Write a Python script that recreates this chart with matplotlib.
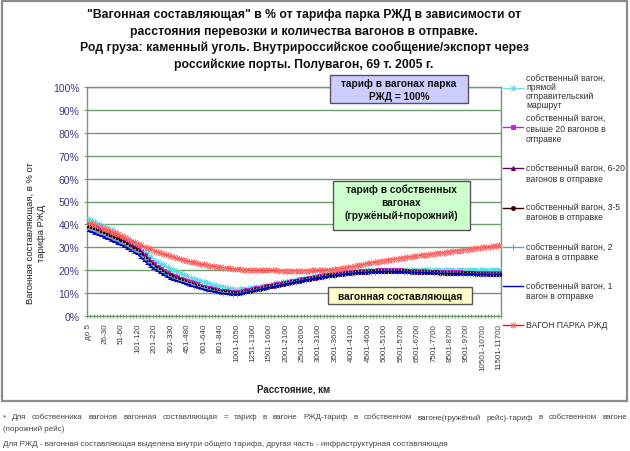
import matplotlib
matplotlib.use("Agg")
import matplotlib.pyplot as plt
from matplotlib.patches import Rectangle
from matplotlib.lines import Line2D
from matplotlib.path import Path
import numpy as np

# ---------------- DATA ----------------
tick_labels = ["до 5", "26-30", "51-60", "101-120", "201-220", "301-330", "451-480",
               "601-640", "801-840", "1001-1050", "1251-1300", "1501-1600", "2001-2100",
               "2501-2600", "3001-3100", "3501-3600", "4001-4100", "4501-4600",
               "5001-5100", "5501-5700", "6501-6700", "7501-7700", "8501-8700",
               "9501-9700", "10501-10700", "11501-11700"]
label_step = 5  # every 5th distance belt is labelled

own_direct = [
    42.5,
    41.7, 41.0, 40.3, 39.5, 38.8,
    38.1, 37.4, 36.6, 35.8, 35.0,
    34.1, 33.2, 32.3, 31.4, 30.5,
    29.3, 28.1, 26.9, 25.7, 24.5,
    23.7, 22.9, 22.1, 21.3, 20.5,
    19.9, 19.2, 18.6, 17.9, 17.3,
    16.8, 16.3, 15.8, 15.3, 14.8,
    14.4, 14.0, 13.6, 13.2, 12.8,
    12.5, 12.2, 11.9, 11.7, 11.5,
    11.6, 11.7, 11.9, 12.1, 12.3,
    12.6, 12.8, 13.1, 13.3, 13.6,
    13.9, 14.2, 14.5, 14.7, 15.0,
    15.3, 15.5, 15.8, 16.0, 16.3,
    16.5, 16.8, 17.0, 17.3, 17.5,
    17.7, 17.9, 18.1, 18.3, 18.5,
    18.7, 18.8, 19.0, 19.1, 19.3,
    19.4, 19.5, 19.7, 19.8, 19.9,
    20.0, 20.1, 20.2, 20.2, 20.3,
    20.3, 20.3, 20.3, 20.3, 20.3,
    20.3, 20.3, 20.2, 20.2, 20.2,
    20.2, 20.2, 20.1, 20.1, 20.1,
    20.1, 20.1, 20.0, 20.0, 20.0,
    20.0, 20.0, 20.0, 20.0, 20.0,
    20.0, 19.9, 19.9, 19.9, 19.9,
    19.9, 19.9, 19.9, 19.9, 19.9,
]

own_20plus = [
    39.8,
    39.2, 38.6, 38.0, 37.4, 36.8,
    36.1, 35.5, 34.8, 34.2, 33.5,
    32.7, 31.9, 31.1, 30.3, 29.5,
    28.0, 26.5, 25.0, 23.7, 22.5,
    21.6, 20.7, 19.8, 18.9, 18.0,
    17.4, 16.9, 16.3, 15.8, 15.2,
    14.7, 14.2, 13.8, 13.3, 12.8,
    12.4, 12.1, 11.7, 11.4, 11.0,
    10.9, 10.7, 10.6, 10.4, 10.3,
    10.6, 10.9, 11.2, 11.5, 11.8,
    12.1, 12.4, 12.6, 12.9, 13.2,
    13.5, 13.8, 14.0, 14.3, 14.6,
    14.9, 15.2, 15.4, 15.7, 16.0,
    16.3, 16.5, 16.8, 17.0, 17.3,
    17.5, 17.7, 18.0, 18.2, 18.4,
    18.6, 18.7, 18.9, 19.0, 19.2,
    19.3, 19.4, 19.5, 19.6, 19.7,
    19.8, 19.8, 19.9, 19.9, 20.0,
    20.0, 20.0, 19.9, 19.9, 19.9,
    19.8, 19.8, 19.7, 19.7, 19.6,
    19.5, 19.5, 19.4, 19.4, 19.3,
    19.3, 19.2, 19.2, 19.1, 19.1,
    19.0, 19.0, 19.0, 18.9, 18.9,
    18.9, 18.9, 18.8, 18.8, 18.8,
    18.8, 18.7, 18.7, 18.7, 18.7,
]

own_6_20 = [
    39.3,
    38.7, 38.1, 37.5, 36.9, 36.3,
    35.6, 35.0, 34.3, 33.7, 33.0,
    32.2, 31.4, 30.6, 29.8, 29.0,
    27.5, 26.0, 24.6, 23.3, 22.1,
    21.2, 20.3, 19.4, 18.5, 17.7,
    17.1, 16.6, 16.0, 15.5, 14.9,
    14.4, 13.9, 13.5, 13.0, 12.6,
    12.2, 11.9, 11.5, 11.2, 10.8,
    10.7, 10.5, 10.4, 10.2, 10.1,
    10.4, 10.7, 11.0, 11.3, 11.6,
    11.9, 12.2, 12.4, 12.7, 13.0,
    13.3, 13.6, 13.8, 14.1, 14.4,
    14.7, 15.0, 15.2, 15.5, 15.8,
    16.1, 16.3, 16.6, 16.8, 17.1,
    17.3, 17.5, 17.8, 18.0, 18.2,
    18.4, 18.5, 18.7, 18.8, 19.0,
    19.1, 19.2, 19.3, 19.4, 19.5,
    19.6, 19.6, 19.7, 19.7, 19.8,
    19.8, 19.8, 19.7, 19.7, 19.7,
    19.6, 19.6, 19.5, 19.5, 19.4,
    19.3, 19.3, 19.2, 19.2, 19.1,
    19.1, 19.0, 19.0, 18.9, 18.9,
    18.8, 18.8, 18.8, 18.7, 18.7,
    18.7, 18.7, 18.6, 18.6, 18.6,
    18.6, 18.5, 18.5, 18.5, 18.5,
]

own_3_5 = [
    38.8,
    38.2, 37.6, 37.0, 36.4, 35.8,
    35.1, 34.5, 33.8, 33.2, 32.5,
    31.7, 30.9, 30.1, 29.3, 28.5,
    27.0, 25.5, 24.1, 22.8, 21.6,
    20.7, 19.8, 18.9, 18.1, 17.3,
    16.7, 16.2, 15.6, 15.1, 14.6,
    14.1, 13.6, 13.2, 12.7, 12.3,
    11.9, 11.6, 11.2, 10.9, 10.6,
    10.4, 10.3, 10.1, 10.0, 9.9,
    10.2, 10.5, 10.8, 11.1, 11.4,
    11.7, 12.0, 12.3, 12.6, 12.9,
    13.2, 13.5, 13.7, 14.0, 14.3,
    14.6, 14.9, 15.1, 15.4, 15.7,
    16.0, 16.2, 16.5, 16.7, 17.0,
    17.2, 17.4, 17.7, 17.9, 18.1,
    18.3, 18.4, 18.6, 18.7, 18.9,
    19.0, 19.1, 19.2, 19.3, 19.4,
    19.5, 19.5, 19.6, 19.6, 19.7,
    19.7, 19.7, 19.6, 19.6, 19.6,
    19.5, 19.5, 19.4, 19.4, 19.3,
    19.2, 19.2, 19.1, 19.1, 19.0,
    19.0, 18.9, 18.9, 18.8, 18.8,
    18.7, 18.7, 18.7, 18.6, 18.6,
    18.6, 18.6, 18.5, 18.5, 18.5,
    18.5, 18.4, 18.4, 18.4, 18.4,
]

own_2 = [
    38.1,
    37.5, 36.9, 36.3, 35.7, 35.1,
    34.4, 33.8, 33.1, 32.5, 31.8,
    31.0, 30.2, 29.4, 28.6, 27.8,
    26.4, 24.9, 23.5, 22.3, 21.1,
    20.2, 19.3, 18.4, 17.6, 16.8,
    16.3, 15.8, 15.3, 14.8, 14.3,
    13.8, 13.3, 12.9, 12.5, 12.1,
    11.7, 11.4, 11.0, 10.7, 10.4,
    10.2, 10.1, 9.9, 9.8, 9.7,
    10.0, 10.3, 10.6, 10.9, 11.2,
    11.5, 11.8, 12.1, 12.4, 12.7,
    13.0, 13.3, 13.6, 13.9, 14.2,
    14.5, 14.8, 15.0, 15.3, 15.6,
    15.9, 16.1, 16.4, 16.6, 16.9,
    17.1, 17.3, 17.6, 17.8, 18.0,
    18.2, 18.3, 18.5, 18.6, 18.8,
    18.9, 19.0, 19.1, 19.2, 19.3,
    19.4, 19.4, 19.5, 19.5, 19.6,
    19.6, 19.6, 19.5, 19.5, 19.5,
    19.4, 19.4, 19.3, 19.3, 19.2,
    19.1, 19.1, 19.0, 19.0, 18.9,
    18.9, 18.8, 18.8, 18.7, 18.7,
    18.6, 18.6, 18.6, 18.5, 18.5,
    18.5, 18.5, 18.4, 18.4, 18.4,
    18.4, 18.3, 18.3, 18.3, 18.3,
]

own_1 = [
    37.2,
    36.6, 36.0, 35.4, 34.8, 34.2,
    33.5, 32.9, 32.2, 31.6, 30.9,
    30.1, 29.3, 28.5, 27.7, 26.9,
    25.5, 24.1, 22.8, 21.6, 20.5,
    19.6, 18.7, 17.9, 17.1, 16.3,
    15.8, 15.3, 14.8, 14.3, 13.8,
    13.3, 12.9, 12.5, 12.1, 11.7,
    11.3, 11.0, 10.7, 10.4, 10.1,
    9.9, 9.8, 9.7, 9.6, 9.5,
    9.8, 10.1, 10.4, 10.7, 11.0,
    11.3, 11.6, 11.9, 12.2, 12.5,
    12.8, 13.1, 13.4, 13.7, 14.0,
    14.3, 14.6, 14.9, 15.2, 15.5,
    15.8, 16.0, 16.3, 16.5, 16.8,
    17.0, 17.2, 17.5, 17.7, 17.9,
    18.1, 18.2, 18.4, 18.5, 18.7,
    18.8, 18.9, 19.0, 19.1, 19.2,
    19.3, 19.3, 19.4, 19.4, 19.5,
    19.5, 19.5, 19.4, 19.4, 19.4,
    19.3, 19.3, 19.2, 19.2, 19.1,
    19.0, 19.0, 18.9, 18.9, 18.8,
    18.8, 18.7, 18.7, 18.6, 18.6,
    18.5, 18.5, 18.5, 18.4, 18.4,
    18.4, 18.4, 18.3, 18.3, 18.3,
    18.3, 18.2, 18.2, 18.2, 18.2,
]

rzd_wagon = [
    40.8,
    40.2, 39.7, 39.1, 38.6, 38.0,
    37.4, 36.8, 36.2, 35.6, 35.0,
    34.3, 33.6, 32.9, 32.2, 31.5,
    30.9, 30.3, 29.7, 29.1, 28.5,
    28.0, 27.5, 27.0, 26.5, 26.0,
    25.6, 25.2, 24.8, 24.4, 24.0,
    23.7, 23.4, 23.1, 22.8, 22.5,
    22.2, 22.0, 21.7, 21.5, 21.2,
    21.1, 20.9, 20.8, 20.6, 20.5,
    20.4, 20.3, 20.3, 20.2, 20.1,
    20.0, 20.0, 20.0, 19.9, 19.9,
    19.9, 19.9, 19.8, 19.8, 19.8,
    19.8, 19.8, 19.8, 19.8, 19.8,
    19.8, 19.8, 19.9, 19.9, 19.9,
    20.0, 20.1, 20.2, 20.3, 20.4,
    20.6, 20.8, 21.0, 21.3, 21.5,
    21.8, 22.1, 22.4, 22.7, 23.0,
    23.2, 23.5, 23.7, 24.0, 24.2,
    24.4, 24.6, 24.9, 25.1, 25.3,
    25.5, 25.7, 25.9, 26.1, 26.3,
    26.5, 26.7, 26.8, 27.0, 27.2,
    27.4, 27.6, 27.7, 27.9, 28.1,
    28.3, 28.5, 28.6, 28.8, 29.0,
    29.2, 29.4, 29.6, 29.8, 30.0,
    30.2, 30.3, 30.5, 30.6, 30.8,
]

legend_labels = [
    ["собственный вагон,", "прямой", "отправительский", "маршрут"],
    ["собственный вагон,", "свыше 20 вагонов в", "отправке"],
    ["собственный вагон, 6-20", "вагонов в отправке"],
    ["собственный вагон, 3-5", "вагонов в отправке"],
    ["собственный вагон, 2", "вагона в отправке"],
    ["собственный вагон, 1", "вагон в отправке"],
    ["ВАГОН ПАРКА РЖД"],
]

title_lines = [
    "\"Вагонная составляющая\" в % от тарифа парка РЖД в зависимости от",
    "расстояния перевозки и количества вагонов в отправке.",
    "Род груза: каменный уголь. Внутрироссийское сообщение/экспорт через",
    "российские порты. Полувагон, 69 т. 2005 г.",
]
ylabel_text = "Вагонная составляющая, в % от\nтарифа РЖД"
xlabel_text = "Расстояние, км"
box1_text = "тариф в вагонах парка\nРЖД = 100%"
box2_text = "тариф в собственных\nвагонах\n(гружёный+порожний)"
box3_text = "вагонная составляющая"
foot1 = ("* Для собственника вагонов вагонная составляющая = тариф в вагоне РЖД-тариф "
         "в собственном вагоне(гружёный рейс)-тариф в собственном вагоне")
foot2 = "(порожний рейс)"
foot3 = ("Для РЖД - вагонная составляющая выделена внутри общего тарифа, другая часть - "
         "инфраструктурная составляющая")

# ---------------- STYLE ----------------
plt.rcParams['font.family'] = ['Liberation Sans', 'DejaVu Sans']
W, H = 630, 452
fig = plt.figure(figsize=(W / 100, H / 100), dpi=100)
fig.patch.set_facecolor('white')


def fx(x):
    return x / W


def fy(y):
    return 1 - y / H


star = Path([(-1, -1), (1, 1), (-1, 1), (1, -1), (0, -1.25), (0, 1.25)],
            [Path.MOVETO, Path.LINETO, Path.MOVETO, Path.LINETO, Path.MOVETO, Path.LINETO])

styles = [
    dict(color='#66E3E8', marker=star, ms=4.5, mfc='none', mec='#55DDE6'),
    dict(color='#D21ED2', marker='s', ms=3.2, mfc='#D21ED2', mec='#D21ED2'),
    dict(color='#660066', marker='^', ms=2.8, mfc='#660066', mec='#660066'),
    dict(color='#330000', marker='o', ms=2.8, mfc='#330000', mec='#330000'),
    dict(color='#6E9CB4', marker='+', ms=4.0, mfc='none', mec='#6E9CB4'),
    dict(color='#0000CC', marker='_', ms=4.0, mfc='none', mec='#0000CC'),
    dict(color='#FF1010', marker=star, ms=4.5, mfc='none', mec='#FF6A6A'),
]
series = [own_direct, own_20plus, own_6_20, own_3_5, own_2, own_1, rzd_wagon]

green = '#6E9E6E'

# chart-area border
fig.add_artist(Rectangle((fx(1.5), fy(402)), fx(627) - fx(1.5), fy(1.5) - fy(402),
                         transform=fig.transFigure, fill=False, ec='#8C8C8C', lw=1.6))

ax = fig.add_axes([fx(87), fy(317), (501 - 87) / W, (317 - 88) / H])
N = len(rzd_wagon)
for vals, st in zip(series, styles):
    xs = np.arange(len(vals))
    ax.plot(xs, vals, color=st['color'], lw=1.0, marker=st['marker'], ms=st['ms'],
            mfc=st['mfc'], mec=st['mec'], mew=0.7, zorder=3)

ax.set_xlim(-0.5, N - 0.5)
ax.set_ylim(0, 100)
ax.set_yticks(range(0, 101, 10))
ax.set_yticklabels([f"{v}%" for v in range(0, 101, 10)], fontsize=7.5, color='#3A3A85')
ax.set_xticks(np.arange(0, N, label_step)[:len(tick_labels)])
ax.set_xticklabels(tick_labels, rotation=90, fontsize=5.8, color='#3C3C3C')
ax.set_xticks(np.arange(-0.5, N, 1), minor=True)
ax.tick_params(axis='x', which='major', length=0, pad=5)
ax.tick_params(axis='x', which='minor', length=2.5, color=green, width=0.6, direction='inout')
ax.tick_params(axis='y', length=2.5, color=green, width=0.8, pad=3)
ax.grid(axis='y', color=green, lw=1.0, zorder=1)
for sp in ax.spines.values():
    sp.set_color(green)
    sp.set_linewidth(1.0)

# titles / labels
title_y = [15, 31.5, 47.8, 64.3]
for line, yy in zip(title_lines, title_y):
    fig.text(fx(304), fy(yy), line, ha='center', va='center', fontsize=8.8,
             fontweight='bold', color='#111111')

fig.text(fx(36), fy(233), ylabel_text, rotation=90, ha='center', va='center',
         multialignment='center', fontsize=6.8, linespacing=1.15, color='#222222')
fig.text(fx(294), fy(390), xlabel_text, ha='center', va='center', fontsize=7,
         fontweight='bold', color='#222222')

# annotation boxes
boxes = [
    (330, 76, 468, 104, '#CCCCFF', box1_text, 90.5),
    (333, 182, 470, 231, '#CCFFCC', box2_text, 203),
    (328, 288, 472, 305, '#FFFFCC', box3_text, 296.5),
]
for x0, y0, x1, y1, fc, txt, ty in boxes:
    fig.add_artist(Rectangle((fx(x0), fy(y1)), fx(x1) - fx(x0), fy(y0) - fy(y1),
                             transform=fig.transFigure, fc=fc, ec='#555555', lw=1.0, zorder=5))
    fig.text(fx((x0 + x1) / 2), fy(ty), txt, ha='center', va='center', fontsize=7.3,
             fontweight='bold', linespacing=1.35, color='#111111', zorder=6)

# legend (manual, Excel-like)
leg_marker_y = [89, 128, 169, 209, 248, 287, 326]
leg_text_y = [79, 119.5, 169, 208, 248, 287, 326]
leg_line_gap = [8.8, 10, 10, 10, 10, 10, 10]
for st, lines, my, ty, gap in zip(styles, legend_labels, leg_marker_y, leg_text_y, leg_line_gap):
    fig.add_artist(Line2D([fx(503), fx(523)], [fy(my), fy(my)], transform=fig.transFigure,
                          color=st['color'], lw=1.0))
    fig.add_artist(Line2D([fx(513)], [fy(my)], transform=fig.transFigure, marker=st['marker'],
                          ms=st['ms'], mfc=st['mfc'], mec=st['mec'], mew=0.7, lw=0))
    for k, ln in enumerate(lines):
        fig.text(fx(526), fy(ty + gap * k), ln, ha='left', va='center', fontsize=6.2,
                 color='#333333')

# footnotes (first line justified)
renderer = fig.canvas.get_renderer()


def justified(text, x0, x1, y, **kw):
    words = text.split(' ')
    objs = [fig.text(0, fy(y), w, ha='left', va='center', **kw) for w in words]
    widths = [o.get_window_extent(renderer).width for o in objs]
    gap = (x1 - x0 - sum(widths)) / (len(words) - 1)
    pos = x0
    for o, w in zip(objs, widths):
        o.set_x(fx(pos))
        pos += w + gap


fkw = dict(fontsize=5.75, color='#444444')
justified(foot1, 3, 627, 418, **fkw)
fig.text(fx(3), fy(429), foot2, ha='left', va='center', **fkw)
fig.text(fx(3), fy(444), foot3, ha='left', va='center', **fkw)

fig.savefig('out.png', dpi=100, facecolor='white')
